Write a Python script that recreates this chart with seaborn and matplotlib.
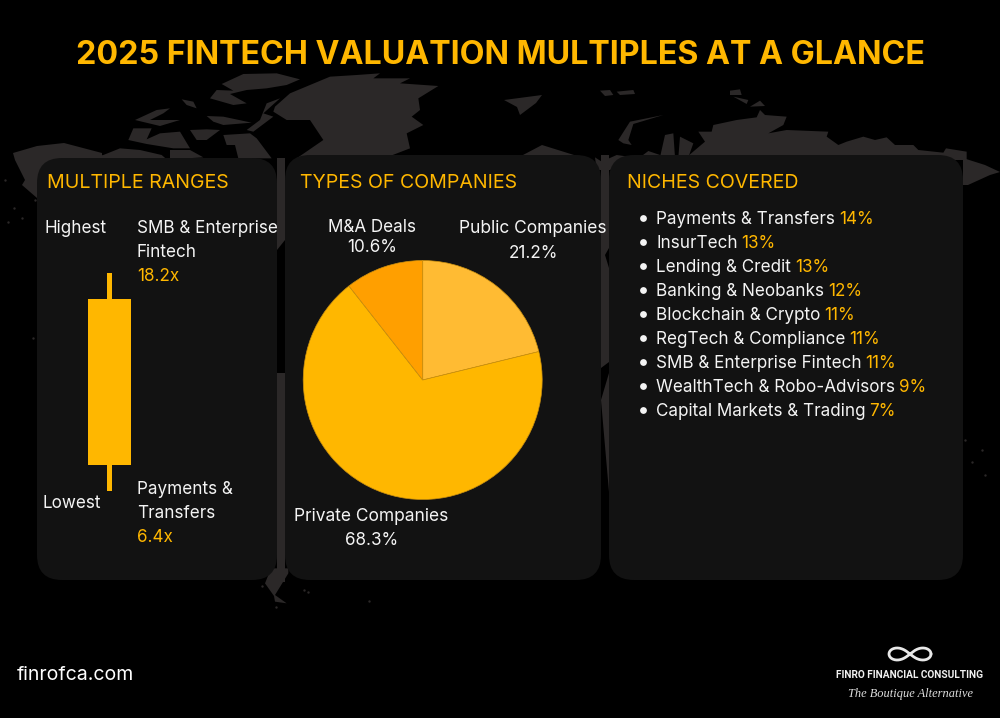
#!/usr/bin/env python3
# -*- coding: utf-8 -*-
import numpy as np
import pandas as pd
import seaborn as sns
import matplotlib
matplotlib.use("Agg")
import matplotlib.pyplot as plt
from matplotlib.patches import FancyBboxPatch, Polygon

# %% Data
title = "2025 FINTECH VALUATION MULTIPLES AT A GLANCE"

range_high = 18.2
range_low = 6.4
body_high = 16.8  # estimated from the candle body
body_low = 7.8

company_types = ["Public Companies", "Private Companies", "M&A Deals"]
company_shares = [21.2, 68.3, 10.6]

niches = ["Payments & Transfers", "InsurTech", "Lending & Credit", "Banking & Neobanks",
          "Blockchain & Crypto", "RegTech & Compliance", "SMB & Enterprise Fintech",
          "WealthTech & Robo-Advisors", "Capital Markets & Trading"]
niche_shares = [14, 13, 13, 12, 11, 11, 11, 9, 7]

# %% Colours
BG = "#000000"
PANEL = "#121212"
MAP = "#2b2828"
GOLD = "#ffb700"
WHITE = "#f4f4f4"
pie_colors = ["#ffbb33", "#ffb700", "#ff9f00"]
FONT = "Inter"

sns.set_theme(style="white", rc={"figure.facecolor": BG, "savefig.facecolor": BG})
plt.rcParams["font.family"] = [FONT, "DejaVu Sans"]

fig = plt.figure(figsize=(10, 7.18), dpi=100, facecolor=BG)

# full page axes in pixel coords for the decoration and text
bg = fig.add_axes([0, 0, 1, 1], zorder=0)
bg.set_xlim(0, 1000)
bg.set_ylim(718, 0)
bg.axis("off")


# %% Rough world map behind the panels
def west(pts):
    # outlines traced on a 3x crop starting at (90, 70)
    return [(90 + x / 3, 70 + y / 3) for x, y in pts]


def east(pts):
    # outlines traced on a 3x crop starting at (590, 80)
    return [(590 + x / 3, 80 + y / 3) for x, y in pts]


def south(pts):
    return [(200 + x / 3, 570 + y / 3) for x, y in pts]


land = [
    # greenland
    west([(555, 110), (600, 70), (660, 45), (720, 20), (800, 15), (870, 10), (850, 25), (960, 25),
          (930, 40), (1045, 48), (985, 85), (990, 120), (965, 140), (1000, 165), (950, 190),
          (960, 235), (890, 262), (620, 265), (700, 210), (660, 150), (590, 150), (550, 125)]),
    # arctic islands
    west([(395, 42), (460, 12), (560, 10), (630, 28), (590, 45), (530, 55), (470, 60), (420, 72),
          (470, 100), (430, 105), (360, 85), (380, 60), (430, 62)]),
    west([(135, 150), (200, 120), (240, 115), (220, 130), (180, 150), (270, 150), (210, 168)]),
    west([(275, 88), (310, 95), (320, 115), (290, 105)]),
    west([(350, 138), (400, 140), (485, 158), (400, 165), (370, 155)]),
    west([(115, 210), (130, 175), (185, 175), (170, 208), (210, 190), (270, 185), (300, 235),
          (250, 235), (170, 222)]),
    west([(0, 262), (40, 255), (90, 235), (150, 240), (215, 255), (230, 268), (0, 268)]),
    west([(300, 180), (350, 178), (390, 180), (350, 210), (320, 210)]),
    west([(400, 195), (480, 190), (500, 205), (545, 265), (445, 265), (435, 225), (410, 225)]),
    west([(240, 240), (300, 240), (340, 262), (240, 268)]),
    west([(470, 180), (510, 150), (530, 100), (570, 85), (520, 130), (550, 140), (490, 185)]),
    # alaska
    [(13, 153), (37, 146), (64, 143), (102, 153), (102, 165), (37, 198), (22, 185), (25, 180), (15, 160)],
    # north europe
    [(504, 100), (542, 95), (536, 103), (520, 115), (517, 107)],
    [(523, 155), (542, 145), (574, 155), (574, 160), (523, 160)],
    # russia
    east([(325, 155), (365, 155), (370, 135), (440, 120), (500, 112), (510, 90), (525, 105), (590, 110),
          (580, 135), (535, 160), (590, 150), (640, 152), (715, 155), (710, 170), (745, 195), (770, 185),
          (820, 170), (855, 180), (890, 172), (915, 195), (970, 195), (985, 210), (1060, 218), (1068, 205),
          (1130, 215), (1130, 240), (280, 240), (345, 185)]),
    east([(210, 232), (225, 165), (250, 160), (255, 232)]),
    east([(265, 232), (270, 170), (310, 190), (295, 232)]),
    east([(85, 180), (120, 125), (220, 105), (130, 132), (115, 180), (125, 195), (100, 190)]),
    east([(150, 232), (175, 213), (210, 225), (215, 235)]),
    east([(15, 232), (35, 245), (80, 225), (130, 232), (60, 270), (20, 270)]),
    east([(420, 32), (450, 28), (455, 45), (420, 45)]),
    east([(430, 50), (475, 60), (470, 72)]),
    east([(480, 80), (510, 62), (525, 78)]),
    east([(30, 32), (60, 30), (70, 45), (45, 48)]),
    east([(80, 35), (130, 30), (135, 42), (90, 45)]),
    # far east, right of the panels
    [(963, 158), (985, 165), (1000, 172), (990, 175), (968, 185), (963, 185)],
    # gaps between the panels
    [(277, 158), (285, 158), (285, 240), (277, 250)],
    [(277, 373), (285, 373), (285, 582), (277, 582)],
    [(601, 155), (609, 155), (609, 248), (605, 255), (609, 268), (609, 362), (601, 368)],
    [(609, 373), (609, 492), (601, 400)],
    # south american tail
    south([(205, 15), (215, -5), (265, -5), (265, 10), (225, 75), (260, 100), (225, 95), (222, 78), (195, 40)]),
]
for shape in land:
    bg.add_patch(Polygon(shape, closed=True, fc=MAP, ec="none", zorder=1))

# specks around the map
bg.scatter([5, 14, 22, 35, 8, 33, 262, 304, 308, 369, 276, 965, 985, 972, 982],
           [180, 208, 218, 200, 222, 338, 586, 590, 592, 601, 607, 440, 475, 462, 450],
           s=3, color=MAP, zorder=1, linewidths=0)

# %% Panels
for x0, y0, x1, y1 in [(37, 158, 277, 580), (285, 155, 601, 580), (609, 155, 963, 580)]:
    bg.add_patch(FancyBboxPatch((x0 + 25, y0 + 25), x1 - x0 - 50, y1 - y0 - 50,
                                boxstyle="round,pad=25,rounding_size=25",
                                fc=PANEL, ec="none", zorder=2))


def put(x, y, s, color=WHITE, size=12.3, ha="left", **kw):
    return bg.text(x, y + 1.5, s, color=color, fontsize=size, ha=ha, va="center", zorder=5, **kw)


# %% Title and headings
put(500, 54, title, color=GOLD, size=23.2, ha="center", fontweight="bold")
put(47, 182, "MULTIPLE RANGES", color=GOLD, size=14.1)
put(300, 182, "TYPES OF COMPANIES", color=GOLD, size=14.1)
put(627, 182, "NICHES COVERED", color=GOLD, size=14.1)

# %% Candle
# candle axes: x 88-131 px, y 273-491 px
cax = fig.add_axes([88 / 1000, 1 - 491 / 718, 43 / 1000, 218 / 718], zorder=3)
cax.patch.set_alpha(0)
sns.barplot(x=[0], y=[range_high - range_low], bottom=range_low, width=5 / 43, color=GOLD,
            saturation=1, linewidth=0, ax=cax)
sns.barplot(x=[0], y=[body_high - body_low], bottom=body_low, width=1.0, color=GOLD,
            saturation=1, linewidth=0, ax=cax)
cax.set_xlim(-0.5, 0.5)
cax.set_ylim(range_low, range_high)
cax.axis("off")

put(45, 227, "Highest")
put(137, 227, "SMB & Enterprise")
put(137, 251, "Fintech")
put(137, 275, f"{range_high}x", color=GOLD)
put(43, 502, "Lowest")
put(137, 488, "Payments &")
put(137, 512, "Transfers")
put(137, 536, f"{range_low}x", color=GOLD)

# %% Pie
pie_df = pd.DataFrame({"type": company_types, "share": company_shares})
r = 119.5
pax = fig.add_axes([(422.7 - r) / 1000, 1 - (380 + r) / 718, 2 * r / 1000, 2 * r / 718], zorder=3)
pax.pie(pie_df["share"], colors=pie_colors, startangle=90, counterclock=False, radius=1,
        wedgeprops={"edgecolor": "#c98f10", "linewidth": 0.5})
pax.set_xlim(-1, 1)
pax.set_ylim(-1, 1)

put(533, 227, company_types[0], ha="center", size=12.5)
put(533, 252, f"{company_shares[0]}%", ha="center")
put(371.5, 515, company_types[1], ha="center", size=12.5)
put(372, 539, f"{company_shares[1]}%", ha="center")
put(372, 226, company_types[2], ha="center")
put(372, 246, f"{company_shares[2]}%", ha="center")

# %% Niche list
fig.canvas.draw()
renderer = fig.canvas.get_renderer()
for i, (name, share) in enumerate(zip(niches, niche_shares)):
    y = 217.5 + i * 24.05
    bg.scatter([642.5], [y], s=24, color=WHITE, zorder=5, linewidths=0)
    t = put(656.5, y, name, size=12.3)
    w = t.get_window_extent(renderer).width
    put(656.5 + w + 3.5, y, f"{share}%", color=GOLD, size=12.3)

# %% Footer
put(17, 673, "finrofca.com", size=14.0, color="#ffffff")

# infinity logo
theta = np.linspace(0, 2 * np.pi, 200)
lx = 910 + 21 * np.cos(theta) / (1 + np.sin(theta) ** 2)
ly = 654 + 17 * np.sin(theta) * np.cos(theta) / (1 + np.sin(theta) ** 2)
sns.lineplot(x=lx, y=ly, sort=False, estimator=None, color="#e8e8e8", lw=2, ax=bg, zorder=5)
bg.set_xlim(0, 1000)
bg.set_ylim(718, 0)

put(910, 674, "FINRO FINANCIAL CONSULTING", size=7.3, ha="center", color="#f0f0f0",
    fontweight="bold", family=["Roboto", "DejaVu Sans"])
put(910, 692, "The Boutique Alternative", size=8.9, ha="center", color="#dddddd",
    style="italic", family=["Liberation Serif", "DejaVu Serif"])

fig.savefig("out.png", dpi=100, facecolor=BG)
